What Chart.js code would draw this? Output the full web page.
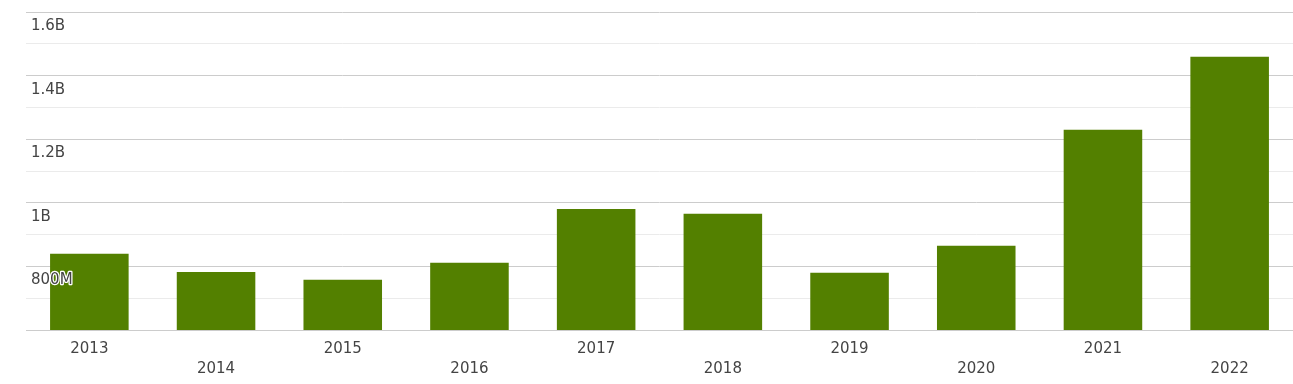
<!DOCTYPE html>
<html>
<head>
<meta charset="utf-8">
<script src="https://cdn.jsdelivr.net/npm/chart.js@4"></script>
<style>
  body { margin: 0; background: #fff; }
  #wrap { width: 1293px; height: 384px; }
</style>
</head>
<body>
<div id="wrap"><canvas id="grafico"></canvas></div>
<script>
const anos = ['2013', '2014', '2015', '2016', '2017', '2018', '2019', '2020', '2021', '2022'];
const valores = [840e6, 783e6, 758e6, 812e6, 981e6, 966e6, 780e6, 865e6, 1230e6, 1459e6];
const minimoEixo = 600e6;
const maximoEixo = 1600e6;

function formataValor(v) {
    if (v >= 1e9) return (v / 1e9).toString() + 'B';
    return (v / 1e6).toString() + 'M';
}

// contorno branco do texto sem pontas de esquadria
const juntaRedonda = {
    id: 'juntaRedonda',
    beforeDraw: chart => { chart.ctx.lineJoin = 'round'; }
};

const grafico = new Chart(document.getElementById('grafico'), {
    type: 'bar',
    data: {
        labels: anos,
        datasets: [{
            data: valores,
            backgroundColor: '#538000',
            categoryPercentage: 1,
            barPercentage: 0.62
        }]
    },
    options: {
        responsive: true,
        maintainAspectRatio: false,
        animation: false,
        layout: { padding: { left: 26, top: 12, right: 0, bottom: 4 } },
        plugins: { legend: { display: false }, tooltip: { enabled: false } },
        scales: {
            x: {
                grid: { display: false },
                border: { display: true, color: '#cccccc' },
                ticks: {
                    color: '#444',
                    font: { family: 'DejaVu Sans', size: 15, lineHeight: 1.33 },
                    maxRotation: 0,
                    autoSkip: false,
                    padding: 1,
                    callback: function (valor, i) {
                        return i % 2 ? ['', anos[i]] : anos[i];
                    }
                }
            },
            y: {
                min: minimoEixo,
                max: maximoEixo,
                border: { display: false },
                grid: {
                    drawTicks: false,
                    color: ctx => (ctx.tick && Math.round(ctx.tick.value / 1e8) % 2 === 0) ? '#cccccc' : '#ebebeb'
                },
                afterFit: escala => {
                    escala.width = 0;
                    escala.paddingTop = 0;
                    escala.paddingBottom = 0;
                },
                ticks: {
                    stepSize: 100e6,
                    mirror: true,
                    padding: 5,
                    labelOffset: 14,
                    z: 1,
                    color: '#444',
                    textStrokeColor: '#ffffff',
                    textStrokeWidth: 2.5,
                    font: { family: 'DejaVu Sans', size: 15 },
                    callback: function (valor) {
                        const n = Math.round(valor / 1e8);
                        if (n % 2 !== 0 || valor <= minimoEixo) return '';
                        return formataValor(valor);
                    }
                }
            }
        }
    },
    plugins: [juntaRedonda]
});
</script>
</body>
</html>
